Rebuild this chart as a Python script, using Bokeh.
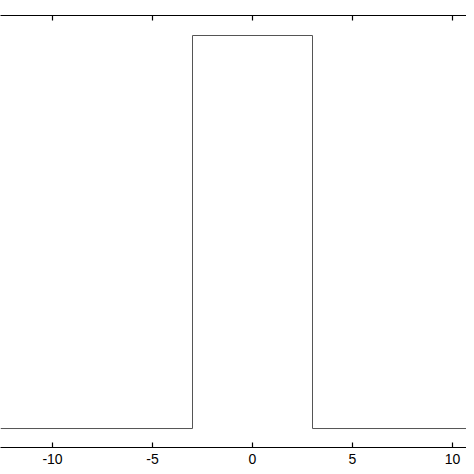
from bokeh.plotting import figure
from bokeh.models import LinearAxis, Range1d, FixedTicker
from bokeh.embed import file_html
from bokeh.resources import INLINE

# Step function data (rectangular pulse)
xs = [-12.6, -3, -3, 3, 3, 10.7]
ys = [0, 0, 1, 1, 0, 0]
ticks = [-10, -5, 0, 5, 10]
tick_labels = ["-10", "-5", "0", "5", "10"]

p = figure(width=466, height=466, output_backend="svg", toolbar_location=None,
           x_range=Range1d(-12.6, 10.7), y_range=Range1d(-0.0483, 1.0509),
           x_axis_location=None, y_axis_location=None,
           min_border_left=0, min_border_right=0, min_border_top=15, min_border_bottom=19)
p.outline_line_color = None
p.grid.visible = False
p.background_fill_color = "white"
p.border_fill_color = "white"

p.line(xs, ys, line_color="#555555", line_width=1)

def mk_axis(labels):
    ax = LinearAxis(ticker=FixedTicker(ticks=ticks))
    ax.major_tick_in = 5
    ax.major_tick_out = 0
    ax.minor_tick_in = 0
    ax.minor_tick_out = 0
    ax.axis_line_color = "black"
    ax.axis_line_width = 1.2
    ax.major_tick_line_color = "black"
    ax.major_tick_line_width = 1.2
    if labels:
        ax.major_label_overrides = {t: s for t, s in zip(ticks, tick_labels)}
        ax.major_label_text_font = "Liberation Sans"
        ax.major_label_text_font_size = "14px"
        ax.major_label_text_color = "black"
        ax.major_label_standoff = 6
    else:
        ax.major_label_text_font_size = "0px"
        ax.major_label_text_color = None
    return ax

p.add_layout(mk_axis(True), "below")
p.add_layout(mk_axis(False), "above")

open("out.html", "w").write(file_html(p, INLINE))
